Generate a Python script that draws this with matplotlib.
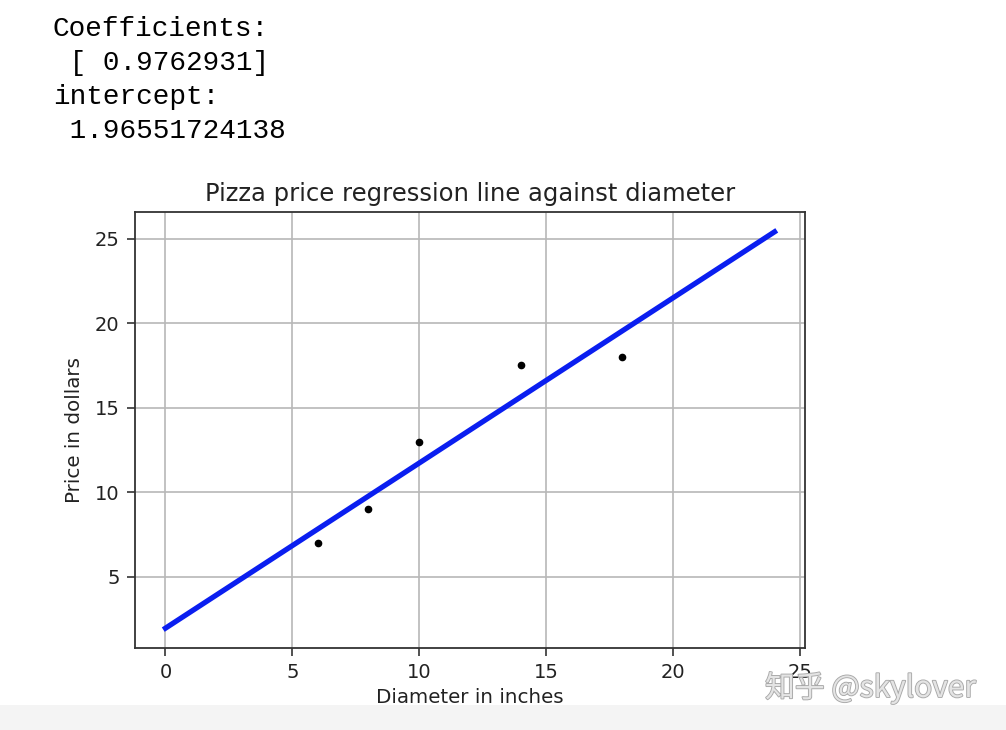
import numpy as np
from matplotlib import pyplot as plt
from matplotlib.patches import Rectangle
from matplotlib import patheffects

# pizza data
diameter = [6, 8, 10, 14, 18]
price = [7, 9, 13, 17.5, 18]
coef = 0.9762931
intercept = 1.96551724138
line_x = [0, 24]

fig = plt.figure(figsize=(10.06, 7.3), dpi=100)
fig.patch.set_facecolor('white')

# notebook printout above the plot
mono = 'Liberation Mono'
lines = ['Coefficients:', ' [ 0.9762931]', 'intercept:', ' 1.96551724138']
for i, s in enumerate(lines):
    fig.text(53 / 1006, 1 - (36 + 34 * i) / 730, s, family=mono, fontsize=20, color='black')

# light band at the bottom of the screenshot
fig.patches.append(Rectangle((0, 0), 1, 25 / 730, transform=fig.transFigure,
                             facecolor='#f4f4f4', edgecolor='none', zorder=0))

ax = fig.add_axes([135 / 1006, 1 - 648 / 730, 670 / 1006, 436 / 730])
ax.plot(diameter, price, 'o', color='black', markersize=4.5, zorder=3)
line_y = [coef * x + intercept for x in line_x]
ax.plot(line_x, line_y, color='#0a1ef0', linewidth=3.8, zorder=2)

ax.set_xticks([0, 5, 10, 15, 20, 25])
ax.set_yticks([5, 10, 15, 20, 25])
ax.grid(True, color='#b8b8b8', linewidth=1.2)
ax.set_axisbelow(True)
ax.tick_params(labelsize=14, colors='#222222', length=6, width=1.1, pad=5)
for s in ax.spines.values():
    s.set_color('#333333')
    s.set_linewidth(1.3)

ax.set_title('Pizza price regression line against diameter', fontsize=17.5, color='#222222', pad=8)
ax.set_xlabel('Diameter in inches', fontsize=14.3, color='#222222', labelpad=4)
ax.set_ylabel('Price in dollars', fontsize=14.3, color='#222222', labelpad=8)

wm = fig.text(765 / 1006, 1 - 697 / 730, '知乎 @skylover', family=['Noto Sans CJK SC', 'DejaVu Sans'],
              fontsize=21.5, color='#e4e4e4')
wm.set_path_effects([patheffects.withStroke(linewidth=1.3, foreground='#a8a8a8')])

fig.savefig('out.png', dpi=100)
